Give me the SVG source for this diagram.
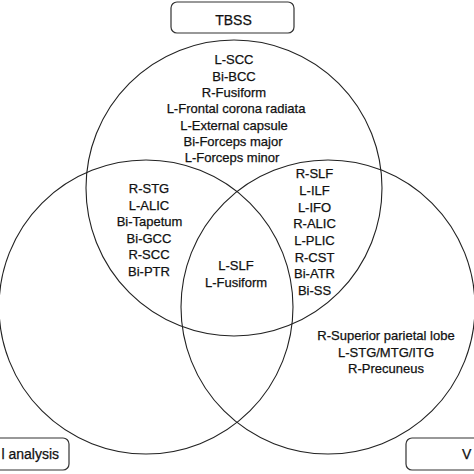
<svg xmlns="http://www.w3.org/2000/svg" width="474" height="474" viewBox="0 0 474 474">
<style>
.c{fill:none;stroke:#222;stroke-width:1.1}
.b{fill:#fff;stroke:#333;stroke-width:1.2}
text{font-family:"Liberation Sans",Arial,sans-serif;fill:#111;stroke:#111;stroke-width:0.25}
.t{font-size:13px;text-anchor:middle}
.h{font-size:14px;text-anchor:middle}
</style>
<rect width="474" height="474" fill="#fff"/>
<g id="connectors">
<circle id="circle-tbss" class="c" cx="234" cy="188" r="148"/>
<circle id="circle-left" class="c" cx="146" cy="307" r="147"/>
<circle id="circle-right" class="c" cx="328" cy="307" r="147"/>
</g>
<g id="box-tbss">
<rect class="b" x="171" y="2" width="123" height="31" rx="6"/>
<text class="h" x="233.5" y="25">TBSS</text>
</g>
<g id="box-left">
<rect class="b" x="-20" y="438" width="89" height="32" rx="6"/>
<text x="59" y="459" style="font-size:14px;text-anchor:end">l analysis</text>
</g>
<g id="box-right">
<rect class="b" x="406" y="438" width="90" height="32" rx="6"/>
<text x="462" y="459" style="font-size:14px">V</text>
</g>
<g id="tbss-only" class="t">
<text x="234" y="64">L-SCC</text>
<text x="234" y="80.5">Bi-BCC</text>
<text x="234" y="97">R-Fusiform</text>
<text x="236" y="113">L-Frontal corona radiata</text>
<text x="234" y="129.5">L-External capsule</text>
<text x="233" y="146">Bi-Forceps major</text>
<text x="232" y="162">L-Forceps minor</text>
</g>
<g id="tbss-left" class="t">
<text x="149" y="193">R-STG</text>
<text x="149" y="209.5">L-ALIC</text>
<text x="149.5" y="226">Bi-Tapetum</text>
<text x="149" y="242.5">Bi-GCC</text>
<text x="149" y="259">R-SCC</text>
<text x="149" y="275.5">Bi-PTR</text>
</g>
<g id="center" class="t">
<text x="236" y="270">L-SLF</text>
<text x="236" y="287">L-Fusiform</text>
</g>
<g id="tbss-right" class="t">
<text x="314.5" y="178">R-SLF</text>
<text x="314.5" y="195">L-ILF</text>
<text x="314.5" y="211.5">L-IFO</text>
<text x="314.5" y="228">R-ALIC</text>
<text x="314.5" y="245">L-PLIC</text>
<text x="314.5" y="261.5">R-CST</text>
<text x="314.5" y="278">Bi-ATR</text>
<text x="314.5" y="294.5">Bi-SS</text>
</g>
<g id="right-only" class="t">
<text x="386" y="340">R-Superior parietal lobe</text>
<text x="386" y="356.5">L-STG/MTG/ITG</text>
<text x="386" y="373">R-Precuneus</text>
</g>
</svg>
